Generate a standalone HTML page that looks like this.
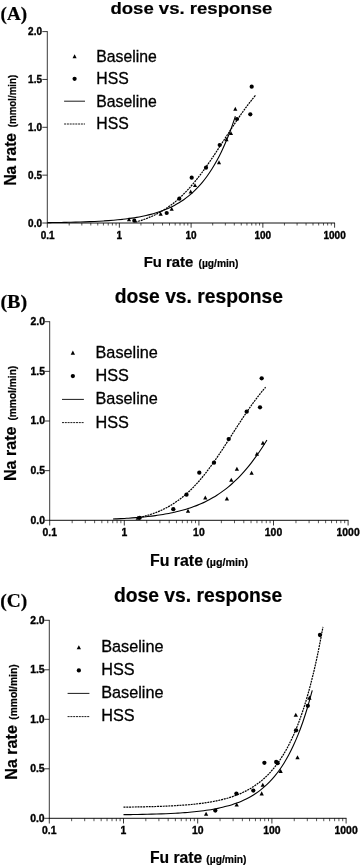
<!DOCTYPE html>
<html><head><meta charset="utf-8"><title>dose vs. response</title>
<style>html,body{margin:0;padding:0;background:#fff}svg{display:block}</style></head>
<body><svg width="360" height="866" viewBox="0 0 360 866" >
<defs><filter id="soft" x="0" y="0" width="360" height="866" filterUnits="userSpaceOnUse"><feGaussianBlur stdDeviation="0.38"/></filter></defs>
<rect width="360" height="866" fill="#fff"/>
<g filter="url(#soft)">
<g stroke="#000" stroke-width="0.78" fill="none" stroke-linecap="butt">
<path d="M47.30 31.21V227.70"/>
<path d="M47.21 223.00H334.99" stroke-width="0.94"/>
<path d="M42.30 223.00H47.30"/>
<path d="M42.30 175.15H47.30"/>
<path d="M42.30 127.30H47.30"/>
<path d="M42.30 79.45H47.30"/>
<path d="M42.30 31.60H47.30"/>
<path d="M69.20 223.00v2.5" stroke-width="0.663"/>
<path d="M81.83 223.00v2.5" stroke-width="0.663"/>
<path d="M90.80 223.00v2.5" stroke-width="0.663"/>
<path d="M97.75 223.00v2.5" stroke-width="0.663"/>
<path d="M103.43 223.00v2.5" stroke-width="0.663"/>
<path d="M108.24 223.00v2.5" stroke-width="0.663"/>
<path d="M112.40 223.00v2.5" stroke-width="0.663"/>
<path d="M116.07 223.00v2.5" stroke-width="0.663"/>
<path d="M119.35 223.00v4.7" stroke-width="0.78"/>
<path d="M140.95 223.00v2.5" stroke-width="0.663"/>
<path d="M153.58 223.00v2.5" stroke-width="0.663"/>
<path d="M162.55 223.00v2.5" stroke-width="0.663"/>
<path d="M169.50 223.00v2.5" stroke-width="0.663"/>
<path d="M175.18 223.00v2.5" stroke-width="0.663"/>
<path d="M179.99 223.00v2.5" stroke-width="0.663"/>
<path d="M184.15 223.00v2.5" stroke-width="0.663"/>
<path d="M187.82 223.00v2.5" stroke-width="0.663"/>
<path d="M191.10 223.00v4.7" stroke-width="0.78"/>
<path d="M212.70 223.00v2.5" stroke-width="0.663"/>
<path d="M225.33 223.00v2.5" stroke-width="0.663"/>
<path d="M234.30 223.00v2.5" stroke-width="0.663"/>
<path d="M241.25 223.00v2.5" stroke-width="0.663"/>
<path d="M246.93 223.00v2.5" stroke-width="0.663"/>
<path d="M251.74 223.00v2.5" stroke-width="0.663"/>
<path d="M255.90 223.00v2.5" stroke-width="0.663"/>
<path d="M259.57 223.00v2.5" stroke-width="0.663"/>
<path d="M262.85 223.00v4.7" stroke-width="0.78"/>
<path d="M284.45 223.00v2.5" stroke-width="0.663"/>
<path d="M297.08 223.00v2.5" stroke-width="0.663"/>
<path d="M306.05 223.00v2.5" stroke-width="0.663"/>
<path d="M313.00 223.00v2.5" stroke-width="0.663"/>
<path d="M318.68 223.00v2.5" stroke-width="0.663"/>
<path d="M323.49 223.00v2.5" stroke-width="0.663"/>
<path d="M327.65 223.00v2.5" stroke-width="0.663"/>
<path d="M331.32 223.00v2.5" stroke-width="0.663"/>
<path d="M334.60 223.00v4.7"/>
</g>
<text transform="translate(42.00 227.40) scale(1 1.08)" font-family='"Liberation Sans", Arial, sans-serif' font-weight="bold" font-size="10" text-anchor="end" fill="#000" stroke="#000" stroke-width="0.35">0.0</text>
<text transform="translate(42.00 179.30) scale(1 1.08)" font-family='"Liberation Sans", Arial, sans-serif' font-weight="bold" font-size="10" text-anchor="end" fill="#000" stroke="#000" stroke-width="0.35">0.5</text>
<text transform="translate(42.00 131.20) scale(1 1.08)" font-family='"Liberation Sans", Arial, sans-serif' font-weight="bold" font-size="10" text-anchor="end" fill="#000" stroke="#000" stroke-width="0.35">1.0</text>
<text transform="translate(42.00 83.10) scale(1 1.08)" font-family='"Liberation Sans", Arial, sans-serif' font-weight="bold" font-size="10" text-anchor="end" fill="#000" stroke="#000" stroke-width="0.35">1.5</text>
<text transform="translate(42.00 35.00) scale(1 1.08)" font-family='"Liberation Sans", Arial, sans-serif' font-weight="bold" font-size="10" text-anchor="end" fill="#000" stroke="#000" stroke-width="0.35">2.0</text>
<text transform="translate(47.60 239.00) scale(1 1.08)" font-family='"Liberation Sans", Arial, sans-serif' font-weight="bold" font-size="10" text-anchor="middle" fill="#000" stroke="#000" stroke-width="0.35">0.1</text>
<text transform="translate(119.35 239.00) scale(1 1.08)" font-family='"Liberation Sans", Arial, sans-serif' font-weight="bold" font-size="10" text-anchor="middle" fill="#000" stroke="#000" stroke-width="0.35">1</text>
<text transform="translate(191.10 239.00) scale(1 1.08)" font-family='"Liberation Sans", Arial, sans-serif' font-weight="bold" font-size="10" text-anchor="middle" fill="#000" stroke="#000" stroke-width="0.35">10</text>
<text transform="translate(262.85 239.00) scale(1 1.08)" font-family='"Liberation Sans", Arial, sans-serif' font-weight="bold" font-size="10" text-anchor="middle" fill="#000" stroke="#000" stroke-width="0.35">100</text>
<text transform="translate(334.60 239.00) scale(1 1.08)" font-family='"Liberation Sans", Arial, sans-serif' font-weight="bold" font-size="10" text-anchor="middle" fill="#000" stroke="#000" stroke-width="0.35">1000</text>
<text transform="translate(191.35 13.90) scale(1 0.89)" font-family='"Liberation Sans", Arial, sans-serif' font-weight="bold" font-size="18.57" text-anchor="middle" fill="#000" stroke="#000" stroke-width="0.2">dose vs. response</text>
<text transform="translate(0.60 19.70) scale(1.07 1)" font-family='"Liberation Serif", "Times New Roman", serif' font-weight="bold" font-size="17.8" text-anchor="start" fill="#000" stroke="#000" stroke-width="0.2">(A)</text>
<text transform="translate(143.70 267.20) scale(1 1.04)" font-family='"Liberation Sans", Arial, sans-serif' font-weight="bold" font-size="14.9" text-anchor="start" fill="#000" stroke="#000" stroke-width="0.2">Fu rate</text>
<text transform="translate(198.50 267.20) scale(1 1.04)" font-family='"Liberation Sans", Arial, sans-serif' font-weight="bold" font-size="10.25" text-anchor="start" fill="#000" stroke="#000" stroke-width="0.2">(µg/min)</text>
<text transform="translate(15.70 185.60) rotate(-90) scale(1 1.06)" font-family='"Liberation Sans", Arial, sans-serif' font-weight="bold" font-size="15.5" text-anchor="start" fill="#000" stroke="#000" stroke-width="0.2">Na rate</text>
<text transform="translate(15.70 127.20) rotate(-90) scale(1 1.06)" font-family='"Liberation Sans", Arial, sans-serif' font-weight="bold" font-size="9.75" text-anchor="start" fill="#000" stroke="#000" stroke-width="0.2">(mmol/min)</text>
<path d="M72.55 58.25L76.65 58.25L74.60 54.36Z" fill="#000"/>
<circle cx="74.60" cy="78.80" r="2.1" fill="#000"/>
<path d="M64.1 101.2H85" stroke="#000" stroke-width="0.9"/>
<path d="M64.1 124.0H85" stroke="#000" stroke-width="0.9" stroke-dasharray="2.0 0.8"/>
<text transform="translate(96.30 61.70) scale(1 1.05)" font-family='"Liberation Sans", Arial, sans-serif' font-weight="normal" font-size="15.8" text-anchor="start" fill="#000" stroke="#000" stroke-width="0.3">Baseline</text>
<text transform="translate(96.30 84.00) scale(1 1.05)" font-family='"Liberation Sans", Arial, sans-serif' font-weight="normal" font-size="15.8" text-anchor="start" fill="#000" stroke="#000" stroke-width="0.3">HSS</text>
<text transform="translate(96.30 107.20) scale(1 1.05)" font-family='"Liberation Sans", Arial, sans-serif' font-weight="normal" font-size="15.8" text-anchor="start" fill="#000" stroke="#000" stroke-width="0.3">Baseline</text>
<text transform="translate(96.30 129.30) scale(1 1.05)" font-family='"Liberation Sans", Arial, sans-serif' font-weight="normal" font-size="15.8" text-anchor="start" fill="#000" stroke="#000" stroke-width="0.3">HSS</text>
<path d="M47.40 222.63C48.18 222.62 50.53 222.59 52.10 222.57C53.67 222.55 55.23 222.53 56.80 222.50C58.37 222.48 59.93 222.45 61.50 222.43C63.07 222.40 64.63 222.37 66.20 222.34C67.77 222.31 69.33 222.27 70.90 222.24C72.47 222.20 74.04 222.16 75.60 222.12C77.17 222.08 78.74 222.03 80.30 221.98C81.87 221.94 83.44 221.88 85.00 221.83C86.57 221.77 88.14 221.71 89.70 221.65C91.27 221.58 92.84 221.52 94.40 221.44C95.97 221.37 97.54 221.29 99.10 221.20C100.67 221.12 102.24 221.02 103.80 220.93C105.37 220.83 106.94 220.72 108.50 220.61C110.07 220.49 111.64 220.37 113.20 220.24C114.77 220.11 116.34 219.97 117.90 219.82C119.47 219.66 121.04 219.50 122.61 219.33C124.17 219.15 125.74 218.97 127.31 218.76C128.87 218.56 130.44 218.35 132.01 218.11C133.57 217.88 135.14 217.63 136.71 217.37C138.27 217.10 139.84 216.81 141.41 216.50C142.97 216.19 144.54 215.86 146.11 215.51C147.67 215.15 149.24 214.77 150.81 214.36C152.37 213.95 153.94 213.51 155.51 213.04C157.07 212.57 158.64 212.06 160.21 211.52C161.77 210.97 163.34 210.40 164.91 209.77C166.47 209.14 168.04 208.47 169.61 207.75C171.18 207.03 172.74 206.26 174.31 205.43C175.88 204.60 177.44 203.72 179.01 202.76C180.58 201.81 182.14 200.79 183.71 199.69C185.28 198.59 186.84 197.43 188.41 196.17C189.98 194.90 191.54 193.57 193.11 192.12C194.68 190.67 196.24 189.13 197.81 187.47C199.38 185.80 200.94 184.04 202.51 182.14C204.08 180.23 205.64 178.21 207.21 176.03C208.78 173.84 210.34 171.53 211.91 169.04C213.48 166.54 215.04 163.90 216.61 161.05C218.18 158.19 219.75 155.18 221.31 151.92C222.88 148.67 224.45 145.23 226.01 141.53C227.58 137.82 229.15 133.91 230.71 129.70C232.28 125.49 234.63 118.51 235.41 116.27" fill="none" stroke="#000" stroke-width="1.10"/>
<path d="M135.44 222.15C135.94 222.00 137.45 221.59 138.45 221.29C139.45 220.98 140.45 220.67 141.46 220.34C142.46 220.01 143.46 219.66 144.47 219.30C145.47 218.94 146.47 218.56 147.47 218.17C148.48 217.77 149.48 217.36 150.48 216.93C151.49 216.50 152.49 216.05 153.49 215.58C154.49 215.11 155.50 214.62 156.50 214.11C157.50 213.59 158.51 213.06 159.51 212.51C160.51 211.95 161.51 211.37 162.52 210.77C163.52 210.16 164.52 209.54 165.53 208.89C166.53 208.23 167.53 207.55 168.53 206.85C169.54 206.14 170.54 205.41 171.54 204.65C172.55 203.89 173.55 203.11 174.55 202.29C175.55 201.48 176.56 200.63 177.56 199.76C178.56 198.88 179.57 197.98 180.57 197.04C181.57 196.11 182.57 195.15 183.58 194.15C184.58 193.16 185.58 192.13 186.59 191.07C187.59 190.02 188.59 188.93 189.59 187.81C190.60 186.70 191.60 185.55 192.60 184.37C193.61 183.20 194.61 181.99 195.61 180.75C196.61 179.52 197.62 178.25 198.62 176.96C199.62 175.67 200.63 174.35 201.63 173.01C202.63 171.67 203.63 170.30 204.64 168.91C205.64 167.51 206.64 166.10 207.65 164.66C208.65 163.23 209.65 161.77 210.65 160.30C211.66 158.83 212.66 157.34 213.66 155.83C214.67 154.33 215.67 152.81 216.67 151.29C217.68 149.76 218.68 148.22 219.68 146.68C220.68 145.14 221.69 143.59 222.69 142.04C223.69 140.49 224.70 138.93 225.70 137.38C226.70 135.83 227.70 134.28 228.71 132.74C229.71 131.20 230.71 129.66 231.72 128.13C232.72 126.60 233.72 125.08 234.72 123.58C235.73 122.08 236.73 120.59 237.73 119.12C238.74 117.65 239.74 116.19 240.74 114.75C241.74 113.32 242.75 111.90 243.75 110.51C244.75 109.12 245.76 107.75 246.76 106.40C247.76 105.06 248.76 103.74 249.77 102.45C250.77 101.16 251.77 99.89 252.78 98.66C253.78 97.42 255.28 95.64 255.78 95.04" fill="none" stroke="#000" stroke-width="1.21" stroke-dasharray="2.0 0.8"/>
<path d="M126.95 221.25L131.05 221.25L129.00 217.36Z" fill="#000"/>
<path d="M158.65 215.75L162.75 215.75L160.70 211.86Z" fill="#000"/>
<path d="M169.65 210.75L173.75 210.75L171.70 206.86Z" fill="#000"/>
<path d="M188.65 193.45L192.75 193.45L190.70 189.56Z" fill="#000"/>
<path d="M192.95 187.05L197.05 187.05L195.00 183.16Z" fill="#000"/>
<path d="M216.95 164.25L221.05 164.25L219.00 160.36Z" fill="#000"/>
<path d="M224.45 141.25L228.55 141.25L226.50 137.36Z" fill="#000"/>
<path d="M228.95 135.05L233.05 135.05L231.00 131.16Z" fill="#000"/>
<path d="M233.25 110.75L237.35 110.75L235.30 106.86Z" fill="#000"/>
<circle cx="134.30" cy="220.70" r="2.1" fill="#000"/>
<circle cx="166.70" cy="213.00" r="2.1" fill="#000"/>
<circle cx="179.30" cy="198.70" r="2.1" fill="#000"/>
<circle cx="191.70" cy="177.70" r="2.1" fill="#000"/>
<circle cx="206.00" cy="167.70" r="2.1" fill="#000"/>
<circle cx="219.70" cy="145.00" r="2.1" fill="#000"/>
<circle cx="237.00" cy="119.00" r="2.1" fill="#000"/>
<circle cx="250.30" cy="114.30" r="2.1" fill="#000"/>
<circle cx="251.70" cy="86.70" r="2.1" fill="#000"/>
<g stroke="#000" stroke-width="0.78" fill="none" stroke-linecap="butt">
<path d="M49.70 321.31V525.50"/>
<path d="M49.31 520.30H348.49" stroke-width="0.94"/>
<path d="M44.70 520.30H49.70"/>
<path d="M44.70 470.65H49.70"/>
<path d="M44.70 421.00H49.70"/>
<path d="M44.70 371.35H49.70"/>
<path d="M44.70 321.70H49.70"/>
<path d="M72.16 520.30v2.9" stroke-width="0.663"/>
<path d="M85.29 520.30v2.9" stroke-width="0.663"/>
<path d="M94.61 520.30v2.9" stroke-width="0.663"/>
<path d="M101.84 520.30v2.9" stroke-width="0.663"/>
<path d="M107.75 520.30v2.9" stroke-width="0.663"/>
<path d="M112.74 520.30v2.9" stroke-width="0.663"/>
<path d="M117.07 520.30v2.9" stroke-width="0.663"/>
<path d="M120.89 520.30v2.9" stroke-width="0.663"/>
<path d="M124.30 520.30v5.2" stroke-width="0.78"/>
<path d="M146.76 520.30v2.9" stroke-width="0.663"/>
<path d="M159.89 520.30v2.9" stroke-width="0.663"/>
<path d="M169.21 520.30v2.9" stroke-width="0.663"/>
<path d="M176.44 520.30v2.9" stroke-width="0.663"/>
<path d="M182.35 520.30v2.9" stroke-width="0.663"/>
<path d="M187.34 520.30v2.9" stroke-width="0.663"/>
<path d="M191.67 520.30v2.9" stroke-width="0.663"/>
<path d="M195.49 520.30v2.9" stroke-width="0.663"/>
<path d="M198.90 520.30v5.2" stroke-width="0.78"/>
<path d="M221.36 520.30v2.9" stroke-width="0.663"/>
<path d="M234.49 520.30v2.9" stroke-width="0.663"/>
<path d="M243.81 520.30v2.9" stroke-width="0.663"/>
<path d="M251.04 520.30v2.9" stroke-width="0.663"/>
<path d="M256.95 520.30v2.9" stroke-width="0.663"/>
<path d="M261.94 520.30v2.9" stroke-width="0.663"/>
<path d="M266.27 520.30v2.9" stroke-width="0.663"/>
<path d="M270.09 520.30v2.9" stroke-width="0.663"/>
<path d="M273.50 520.30v5.2" stroke-width="0.78"/>
<path d="M295.96 520.30v2.9" stroke-width="0.663"/>
<path d="M309.09 520.30v2.9" stroke-width="0.663"/>
<path d="M318.41 520.30v2.9" stroke-width="0.663"/>
<path d="M325.64 520.30v2.9" stroke-width="0.663"/>
<path d="M331.55 520.30v2.9" stroke-width="0.663"/>
<path d="M336.54 520.30v2.9" stroke-width="0.663"/>
<path d="M340.87 520.30v2.9" stroke-width="0.663"/>
<path d="M344.69 520.30v2.9" stroke-width="0.663"/>
<path d="M348.10 520.30v5.2"/>
</g>
<text transform="translate(45.00 523.65) scale(1 1.06)" font-family='"Liberation Sans", Arial, sans-serif' font-weight="bold" font-size="10.4" text-anchor="end" fill="#000" stroke="#000" stroke-width="0.35">0.0</text>
<text transform="translate(45.00 474.00) scale(1 1.06)" font-family='"Liberation Sans", Arial, sans-serif' font-weight="bold" font-size="10.4" text-anchor="end" fill="#000" stroke="#000" stroke-width="0.35">0.5</text>
<text transform="translate(45.00 424.35) scale(1 1.06)" font-family='"Liberation Sans", Arial, sans-serif' font-weight="bold" font-size="10.4" text-anchor="end" fill="#000" stroke="#000" stroke-width="0.35">1.0</text>
<text transform="translate(45.00 374.70) scale(1 1.06)" font-family='"Liberation Sans", Arial, sans-serif' font-weight="bold" font-size="10.4" text-anchor="end" fill="#000" stroke="#000" stroke-width="0.35">1.5</text>
<text transform="translate(45.00 325.05) scale(1 1.06)" font-family='"Liberation Sans", Arial, sans-serif' font-weight="bold" font-size="10.4" text-anchor="end" fill="#000" stroke="#000" stroke-width="0.35">2.0</text>
<text transform="translate(49.70 536.10) scale(1 1.06)" font-family='"Liberation Sans", Arial, sans-serif' font-weight="bold" font-size="10.4" text-anchor="middle" fill="#000" stroke="#000" stroke-width="0.35">0.1</text>
<text transform="translate(124.30 536.10) scale(1 1.06)" font-family='"Liberation Sans", Arial, sans-serif' font-weight="bold" font-size="10.4" text-anchor="middle" fill="#000" stroke="#000" stroke-width="0.35">1</text>
<text transform="translate(198.90 536.10) scale(1 1.06)" font-family='"Liberation Sans", Arial, sans-serif' font-weight="bold" font-size="10.4" text-anchor="middle" fill="#000" stroke="#000" stroke-width="0.35">10</text>
<text transform="translate(273.50 536.10) scale(1 1.06)" font-family='"Liberation Sans", Arial, sans-serif' font-weight="bold" font-size="10.4" text-anchor="middle" fill="#000" stroke="#000" stroke-width="0.35">100</text>
<text transform="translate(348.10 536.10) scale(1 1.06)" font-family='"Liberation Sans", Arial, sans-serif' font-weight="bold" font-size="10.4" text-anchor="middle" fill="#000" stroke="#000" stroke-width="0.35">1000</text>
<text transform="translate(198.90 302.80)" font-family='"Liberation Sans", Arial, sans-serif' font-weight="bold" font-size="19.3" text-anchor="middle" fill="#000" stroke="#000" stroke-width="0.2">dose vs. response</text>
<text transform="translate(0.40 308.00) scale(1.06 1)" font-family='"Liberation Serif", "Times New Roman", serif' font-weight="bold" font-size="19" text-anchor="start" fill="#000" stroke="#000" stroke-width="0.2">(B)</text>
<text transform="translate(150.00 565.60) scale(1 1.03)" font-family='"Liberation Sans", Arial, sans-serif' font-weight="bold" font-size="15.9" text-anchor="start" fill="#000" stroke="#000" stroke-width="0.2">Fu rate</text>
<text transform="translate(206.30 565.60) scale(1 1.03)" font-family='"Liberation Sans", Arial, sans-serif' font-weight="bold" font-size="10.7" text-anchor="start" fill="#000" stroke="#000" stroke-width="0.2">(µg/min)</text>
<text transform="translate(16.20 481.00) rotate(-90) scale(1 1.05)" font-family='"Liberation Sans", Arial, sans-serif' font-weight="bold" font-size="16.1" text-anchor="start" fill="#000" stroke="#000" stroke-width="0.2">Na rate</text>
<text transform="translate(16.20 420.60) rotate(-90) scale(1 1.05)" font-family='"Liberation Sans", Arial, sans-serif' font-weight="bold" font-size="10.2" text-anchor="start" fill="#000" stroke="#000" stroke-width="0.2">(mmol/min)</text>
<path d="M70.70 354.64L75.00 354.64L72.85 350.55Z" fill="#000"/>
<circle cx="72.85" cy="376.10" r="2.15" fill="#000"/>
<path d="M62 399.4H83.9" stroke="#000" stroke-width="0.9"/>
<path d="M62 422.6H83.9" stroke="#000" stroke-width="0.9" stroke-dasharray="2.0 0.8"/>
<text transform="translate(95.50 357.70)" font-family='"Liberation Sans", Arial, sans-serif' font-weight="normal" font-size="16.25" text-anchor="start" fill="#000" stroke="#000" stroke-width="0.3">Baseline</text>
<text transform="translate(95.50 381.00)" font-family='"Liberation Sans", Arial, sans-serif' font-weight="normal" font-size="16.25" text-anchor="start" fill="#000" stroke="#000" stroke-width="0.3">HSS</text>
<text transform="translate(95.50 404.30)" font-family='"Liberation Sans", Arial, sans-serif' font-weight="normal" font-size="16.25" text-anchor="start" fill="#000" stroke="#000" stroke-width="0.3">Baseline</text>
<text transform="translate(95.50 427.60)" font-family='"Liberation Sans", Arial, sans-serif' font-weight="normal" font-size="16.25" text-anchor="start" fill="#000" stroke="#000" stroke-width="0.3">HSS</text>
<path d="M113.04 519.02C113.68 518.99 115.61 518.90 116.89 518.84C118.17 518.78 119.45 518.72 120.74 518.65C122.02 518.58 123.30 518.51 124.58 518.43C125.86 518.35 127.15 518.28 128.43 518.19C129.71 518.11 130.99 518.02 132.27 517.92C133.56 517.83 134.84 517.73 136.12 517.63C137.40 517.52 138.69 517.42 139.97 517.30C141.25 517.19 142.53 517.06 143.81 516.94C145.10 516.81 146.38 516.68 147.66 516.53C148.94 516.39 150.22 516.24 151.51 516.09C152.79 515.93 154.07 515.77 155.35 515.59C156.64 515.42 157.92 515.24 159.20 515.04C160.48 514.85 161.76 514.65 163.05 514.43C164.33 514.22 165.61 514.00 166.89 513.76C168.17 513.53 169.46 513.28 170.74 513.02C172.02 512.76 173.30 512.48 174.59 512.20C175.87 511.91 177.15 511.60 178.43 511.29C179.71 510.97 181.00 510.63 182.28 510.28C183.56 509.93 184.84 509.56 186.12 509.17C187.41 508.78 188.69 508.38 189.97 507.95C191.25 507.52 192.53 507.08 193.82 506.60C195.10 506.13 196.38 505.64 197.66 505.12C198.95 504.60 200.23 504.06 201.51 503.49C202.79 502.92 204.07 502.33 205.36 501.70C206.64 501.08 207.92 500.42 209.20 499.74C210.48 499.05 211.77 498.34 213.05 497.59C214.33 496.83 215.61 496.05 216.90 495.23C218.18 494.41 219.46 493.56 220.74 492.66C222.02 491.76 223.31 490.83 224.59 489.86C225.87 488.88 227.15 487.87 228.43 486.81C229.72 485.75 231.00 484.65 232.28 483.50C233.56 482.35 234.85 481.15 236.13 479.91C237.41 478.67 238.69 477.38 239.97 476.04C241.26 474.69 242.54 473.30 243.82 471.86C245.10 470.42 246.38 468.92 247.67 467.37C248.95 465.83 250.23 464.22 251.51 462.57C252.79 460.91 254.08 459.20 255.36 457.44C256.64 455.67 257.92 453.85 259.21 451.98C260.49 450.11 261.77 448.18 263.05 446.20C264.33 444.22 266.26 441.11 266.90 440.10" fill="none" stroke="#000" stroke-width="1.10"/>
<path d="M139.35 517.58C139.88 517.45 141.46 517.08 142.51 516.81C143.56 516.54 144.61 516.25 145.66 515.95C146.72 515.66 147.77 515.34 148.82 515.01C149.87 514.69 150.93 514.34 151.98 513.98C153.03 513.61 154.08 513.24 155.13 512.84C156.19 512.44 157.24 512.02 158.29 511.58C159.34 511.14 160.40 510.68 161.45 510.20C162.50 509.72 163.55 509.22 164.60 508.69C165.66 508.16 166.71 507.61 167.76 507.04C168.81 506.46 169.87 505.86 170.92 505.23C171.97 504.60 173.02 503.95 174.07 503.26C175.13 502.58 176.18 501.87 177.23 501.12C178.28 500.38 179.33 499.61 180.39 498.80C181.44 498.00 182.49 497.16 183.54 496.30C184.60 495.43 185.65 494.53 186.70 493.59C187.75 492.66 188.80 491.69 189.86 490.69C190.91 489.69 191.96 488.65 193.01 487.58C194.07 486.51 195.12 485.40 196.17 484.26C197.22 483.12 198.27 481.95 199.33 480.74C200.38 479.53 201.43 478.29 202.48 477.01C203.54 475.74 204.59 474.43 205.64 473.09C206.69 471.75 207.74 470.38 208.80 468.98C209.85 467.57 210.90 466.14 211.95 464.69C213.01 463.23 214.06 461.74 215.11 460.24C216.16 458.73 217.21 457.19 218.27 455.64C219.32 454.09 220.37 452.52 221.42 450.93C222.48 449.35 223.53 447.74 224.58 446.12C225.63 444.51 226.68 442.88 227.74 441.25C228.79 439.62 229.84 437.97 230.89 436.33C231.95 434.69 233.00 433.04 234.05 431.40C235.10 429.76 236.15 428.12 237.21 426.49C238.26 424.86 239.31 423.23 240.36 421.62C241.42 420.01 242.47 418.41 243.52 416.83C244.57 415.25 245.62 413.68 246.68 412.14C247.73 410.59 248.78 409.07 249.83 407.57C250.89 406.07 251.94 404.59 252.99 403.15C254.04 401.70 255.09 400.28 256.15 398.89C257.20 397.50 258.25 396.14 259.30 394.81C260.36 393.48 261.41 392.18 262.46 390.92C263.51 389.65 265.09 387.84 265.62 387.23" fill="none" stroke="#000" stroke-width="1.21" stroke-dasharray="2.0 0.8"/>
<path d="M135.65 519.84L139.95 519.84L137.80 515.75Z" fill="#000"/>
<path d="M185.85 512.84L190.15 512.84L188.00 508.75Z" fill="#000"/>
<path d="M203.15 499.54L207.45 499.54L205.30 495.45Z" fill="#000"/>
<path d="M224.75 500.54L229.05 500.54L226.90 496.45Z" fill="#000"/>
<path d="M229.15 481.84L233.45 481.84L231.30 477.75Z" fill="#000"/>
<path d="M234.75 470.74L239.05 470.74L236.90 466.65Z" fill="#000"/>
<path d="M249.45 474.74L253.75 474.74L251.60 470.65Z" fill="#000"/>
<path d="M254.75 455.84L259.05 455.84L256.90 451.75Z" fill="#000"/>
<path d="M260.75 444.74L265.05 444.74L262.90 440.65Z" fill="#000"/>
<circle cx="139.70" cy="517.80" r="2.15" fill="#000"/>
<circle cx="173.30" cy="509.20" r="2.15" fill="#000"/>
<circle cx="186.50" cy="494.70" r="2.15" fill="#000"/>
<circle cx="199.30" cy="472.70" r="2.15" fill="#000"/>
<circle cx="214.00" cy="462.70" r="2.15" fill="#000"/>
<circle cx="228.70" cy="439.10" r="2.15" fill="#000"/>
<circle cx="246.70" cy="411.70" r="2.15" fill="#000"/>
<circle cx="260.00" cy="407.30" r="2.15" fill="#000"/>
<circle cx="261.70" cy="378.30" r="2.15" fill="#000"/>
<g stroke="#000" stroke-width="0.78" fill="none" stroke-linecap="butt">
<path d="M49.30 619.91V823.50"/>
<path d="M48.91 818.30H346.49" stroke-width="0.94"/>
<path d="M44.30 818.30H49.30"/>
<path d="M44.30 768.80H49.30"/>
<path d="M44.30 719.30H49.30"/>
<path d="M44.30 669.80H49.30"/>
<path d="M44.30 620.30H49.30"/>
<path d="M71.64 818.30v2.9" stroke-width="0.663"/>
<path d="M84.70 818.30v2.9" stroke-width="0.663"/>
<path d="M93.97 818.30v2.9" stroke-width="0.663"/>
<path d="M101.16 818.30v2.9" stroke-width="0.663"/>
<path d="M107.04 818.30v2.9" stroke-width="0.663"/>
<path d="M112.01 818.30v2.9" stroke-width="0.663"/>
<path d="M116.31 818.30v2.9" stroke-width="0.663"/>
<path d="M120.10 818.30v2.9" stroke-width="0.663"/>
<path d="M123.50 818.30v5.2" stroke-width="0.78"/>
<path d="M145.84 818.30v2.9" stroke-width="0.663"/>
<path d="M158.90 818.30v2.9" stroke-width="0.663"/>
<path d="M168.17 818.30v2.9" stroke-width="0.663"/>
<path d="M175.36 818.30v2.9" stroke-width="0.663"/>
<path d="M181.24 818.30v2.9" stroke-width="0.663"/>
<path d="M186.21 818.30v2.9" stroke-width="0.663"/>
<path d="M190.51 818.30v2.9" stroke-width="0.663"/>
<path d="M194.30 818.30v2.9" stroke-width="0.663"/>
<path d="M197.70 818.30v5.2" stroke-width="0.78"/>
<path d="M220.04 818.30v2.9" stroke-width="0.663"/>
<path d="M233.10 818.30v2.9" stroke-width="0.663"/>
<path d="M242.37 818.30v2.9" stroke-width="0.663"/>
<path d="M249.56 818.30v2.9" stroke-width="0.663"/>
<path d="M255.44 818.30v2.9" stroke-width="0.663"/>
<path d="M260.41 818.30v2.9" stroke-width="0.663"/>
<path d="M264.71 818.30v2.9" stroke-width="0.663"/>
<path d="M268.50 818.30v2.9" stroke-width="0.663"/>
<path d="M271.90 818.30v5.2" stroke-width="0.78"/>
<path d="M294.24 818.30v2.9" stroke-width="0.663"/>
<path d="M307.30 818.30v2.9" stroke-width="0.663"/>
<path d="M316.57 818.30v2.9" stroke-width="0.663"/>
<path d="M323.76 818.30v2.9" stroke-width="0.663"/>
<path d="M329.64 818.30v2.9" stroke-width="0.663"/>
<path d="M334.61 818.30v2.9" stroke-width="0.663"/>
<path d="M338.91 818.30v2.9" stroke-width="0.663"/>
<path d="M342.70 818.30v2.9" stroke-width="0.663"/>
<path d="M346.10 818.30v5.2"/>
</g>
<text transform="translate(44.60 821.90) scale(1 1.06)" font-family='"Liberation Sans", Arial, sans-serif' font-weight="bold" font-size="10.4" text-anchor="end" fill="#000" stroke="#000" stroke-width="0.35">0.0</text>
<text transform="translate(44.60 772.40) scale(1 1.06)" font-family='"Liberation Sans", Arial, sans-serif' font-weight="bold" font-size="10.4" text-anchor="end" fill="#000" stroke="#000" stroke-width="0.35">0.5</text>
<text transform="translate(44.60 722.90) scale(1 1.06)" font-family='"Liberation Sans", Arial, sans-serif' font-weight="bold" font-size="10.4" text-anchor="end" fill="#000" stroke="#000" stroke-width="0.35">1.0</text>
<text transform="translate(44.60 673.40) scale(1 1.06)" font-family='"Liberation Sans", Arial, sans-serif' font-weight="bold" font-size="10.4" text-anchor="end" fill="#000" stroke="#000" stroke-width="0.35">1.5</text>
<text transform="translate(44.60 623.90) scale(1 1.06)" font-family='"Liberation Sans", Arial, sans-serif' font-weight="bold" font-size="10.4" text-anchor="end" fill="#000" stroke="#000" stroke-width="0.35">2.0</text>
<text transform="translate(49.30 834.10) scale(1 1.06)" font-family='"Liberation Sans", Arial, sans-serif' font-weight="bold" font-size="10.4" text-anchor="middle" fill="#000" stroke="#000" stroke-width="0.35">0.1</text>
<text transform="translate(123.50 834.10) scale(1 1.06)" font-family='"Liberation Sans", Arial, sans-serif' font-weight="bold" font-size="10.4" text-anchor="middle" fill="#000" stroke="#000" stroke-width="0.35">1</text>
<text transform="translate(197.70 834.10) scale(1 1.06)" font-family='"Liberation Sans", Arial, sans-serif' font-weight="bold" font-size="10.4" text-anchor="middle" fill="#000" stroke="#000" stroke-width="0.35">10</text>
<text transform="translate(271.90 834.10) scale(1 1.06)" font-family='"Liberation Sans", Arial, sans-serif' font-weight="bold" font-size="10.4" text-anchor="middle" fill="#000" stroke="#000" stroke-width="0.35">100</text>
<text transform="translate(346.10 834.10) scale(1 1.06)" font-family='"Liberation Sans", Arial, sans-serif' font-weight="bold" font-size="10.4" text-anchor="middle" fill="#000" stroke="#000" stroke-width="0.35">1000</text>
<text transform="translate(198.10 601.70)" font-family='"Liberation Sans", Arial, sans-serif' font-weight="bold" font-size="19.3" text-anchor="middle" fill="#000" stroke="#000" stroke-width="0.2">dose vs. response</text>
<text transform="translate(0.30 607.00) scale(1.03 1)" font-family='"Liberation Serif", "Times New Roman", serif' font-weight="bold" font-size="18.9" text-anchor="start" fill="#000" stroke="#000" stroke-width="0.2">(C)</text>
<text transform="translate(150.00 862.70) scale(1 1.03)" font-family='"Liberation Sans", Arial, sans-serif' font-weight="bold" font-size="15.7" text-anchor="start" fill="#000" stroke="#000" stroke-width="0.2">Fu rate</text>
<text transform="translate(206.30 862.70) scale(1 1.03)" font-family='"Liberation Sans", Arial, sans-serif' font-weight="bold" font-size="10.3" text-anchor="start" fill="#000" stroke="#000" stroke-width="0.2">(µg/min)</text>
<text transform="translate(17.40 779.70) rotate(-90) scale(1 1.05)" font-family='"Liberation Sans", Arial, sans-serif' font-weight="bold" font-size="16.1" text-anchor="start" fill="#000" stroke="#000" stroke-width="0.2">Na rate</text>
<text transform="translate(17.40 719.80) rotate(-90) scale(1 1.05)" font-family='"Liberation Sans", Arial, sans-serif' font-weight="bold" font-size="10.3" text-anchor="start" fill="#000" stroke="#000" stroke-width="0.2">(mmol/min)</text>
<path d="M76.70 649.24L81.00 649.24L78.85 645.15Z" fill="#000"/>
<circle cx="78.85" cy="670.40" r="2.15" fill="#000"/>
<path d="M67.6 693.4H89.4" stroke="#000" stroke-width="0.9"/>
<path d="M67.6 716.6H89.4" stroke="#000" stroke-width="0.9" stroke-dasharray="2.0 0.8"/>
<text transform="translate(101.20 652.30)" font-family='"Liberation Sans", Arial, sans-serif' font-weight="normal" font-size="16.25" text-anchor="start" fill="#000" stroke="#000" stroke-width="0.3">Baseline</text>
<text transform="translate(101.20 675.30)" font-family='"Liberation Sans", Arial, sans-serif' font-weight="normal" font-size="16.25" text-anchor="start" fill="#000" stroke="#000" stroke-width="0.3">HSS</text>
<text transform="translate(101.20 698.30)" font-family='"Liberation Sans", Arial, sans-serif' font-weight="normal" font-size="16.25" text-anchor="start" fill="#000" stroke="#000" stroke-width="0.3">Baseline</text>
<text transform="translate(101.20 721.30)" font-family='"Liberation Sans", Arial, sans-serif' font-weight="normal" font-size="16.25" text-anchor="start" fill="#000" stroke="#000" stroke-width="0.3">HSS</text>
<path d="M123.50 814.67C124.29 814.66 126.65 814.64 128.22 814.62C129.79 814.60 131.37 814.58 132.94 814.55C134.51 814.53 136.08 814.50 137.66 814.48C139.23 814.45 140.80 814.42 142.38 814.39C143.95 814.36 145.52 814.33 147.10 814.29C148.67 814.25 150.24 814.21 151.82 814.17C153.39 814.13 154.96 814.09 156.53 814.04C158.11 813.99 159.68 813.94 161.25 813.88C162.83 813.82 164.40 813.76 165.97 813.70C167.55 813.63 169.12 813.56 170.69 813.49C172.27 813.41 173.84 813.33 175.41 813.25C176.98 813.16 178.56 813.07 180.13 812.96C181.70 812.86 183.28 812.76 184.85 812.64C186.42 812.52 188.00 812.40 189.57 812.26C191.14 812.13 192.72 811.98 194.29 811.82C195.86 811.67 197.43 811.50 199.01 811.32C200.58 811.14 202.15 810.94 203.73 810.73C205.30 810.52 206.87 810.30 208.45 810.06C210.02 809.81 211.59 809.55 213.17 809.27C214.74 808.99 216.31 808.69 217.88 808.36C219.46 808.04 221.03 807.69 222.60 807.31C224.18 806.93 225.75 806.53 227.32 806.09C228.90 805.66 230.47 805.19 232.04 804.68C233.62 804.18 235.19 803.64 236.76 803.05C238.33 802.47 239.91 801.84 241.48 801.16C243.05 800.48 244.63 799.76 246.20 798.98C247.77 798.19 249.35 797.35 250.92 796.44C252.49 795.53 254.07 794.57 255.64 793.51C257.21 792.46 258.79 791.34 260.36 790.12C261.93 788.90 263.50 787.60 265.08 786.19C266.65 784.78 268.22 783.28 269.80 781.64C271.37 780.01 272.94 778.27 274.52 776.38C276.09 774.48 277.66 772.47 279.24 770.28C280.81 768.09 282.38 765.76 283.95 763.22C285.53 760.68 287.10 757.99 288.67 755.05C290.25 752.11 291.82 748.99 293.39 745.59C294.97 742.19 296.54 738.58 298.11 734.64C299.69 730.70 301.26 726.52 302.83 721.96C304.40 717.40 305.98 712.56 307.55 707.28C309.12 702.00 311.48 693.12 312.27 690.29" fill="none" stroke="#000" stroke-width="1.10"/>
<path d="M123.50 807.14C124.33 807.13 126.82 807.10 128.49 807.07C130.15 807.05 131.81 807.03 133.47 807.00C135.14 806.98 136.80 806.95 138.46 806.92C140.12 806.89 141.79 806.85 143.45 806.82C145.11 806.78 146.77 806.74 148.44 806.70C150.10 806.66 151.76 806.62 153.42 806.57C155.08 806.52 156.75 806.47 158.41 806.41C160.07 806.36 161.73 806.30 163.40 806.23C165.06 806.16 166.72 806.09 168.38 806.02C170.05 805.94 171.71 805.86 173.37 805.77C175.03 805.68 176.69 805.58 178.36 805.47C180.02 805.37 181.68 805.26 183.34 805.13C185.01 805.01 186.67 804.88 188.33 804.74C189.99 804.59 191.66 804.44 193.32 804.27C194.98 804.11 196.64 803.93 198.31 803.73C199.97 803.54 201.63 803.33 203.29 803.10C204.95 802.87 206.62 802.63 208.28 802.36C209.94 802.10 211.60 801.81 213.27 801.50C214.93 801.19 216.59 800.86 218.25 800.50C219.92 800.14 221.58 799.75 223.24 799.33C224.90 798.90 226.57 798.45 228.23 797.96C229.89 797.46 231.55 796.94 233.21 796.36C234.88 795.78 236.54 795.17 238.20 794.49C239.86 793.82 241.53 793.10 243.19 792.32C244.85 791.53 246.51 790.69 248.18 789.77C249.84 788.86 251.50 787.88 253.16 786.81C254.82 785.73 256.49 784.59 258.15 783.34C259.81 782.09 261.47 780.76 263.14 779.30C264.80 777.84 266.46 776.28 268.12 774.57C269.79 772.87 271.45 771.05 273.11 769.06C274.77 767.07 276.44 764.95 278.10 762.63C279.76 760.30 281.42 757.83 283.08 755.12C284.75 752.40 286.41 749.52 288.07 746.35C289.73 743.18 291.40 739.81 293.06 736.11C294.72 732.41 296.38 728.48 298.05 724.16C299.71 719.85 301.37 715.25 303.03 710.21C304.70 705.17 306.36 699.81 308.02 693.93C309.68 688.05 311.34 681.78 313.01 674.92C314.67 668.05 316.33 660.74 317.99 652.73C319.66 644.71 322.15 631.14 322.98 626.82" fill="none" stroke="#000" stroke-width="1.21" stroke-dasharray="2.0 0.8"/>
<path d="M203.95 815.74L208.25 815.74L206.10 811.65Z" fill="#000"/>
<path d="M234.55 806.54L238.85 806.54L236.70 802.45Z" fill="#000"/>
<path d="M259.55 795.44L263.85 795.44L261.70 791.35Z" fill="#000"/>
<path d="M260.65 786.84L264.95 786.84L262.80 782.75Z" fill="#000"/>
<path d="M278.45 772.94L282.75 772.94L280.60 768.85Z" fill="#000"/>
<path d="M295.35 759.34L299.65 759.34L297.50 755.25Z" fill="#000"/>
<path d="M293.65 716.84L297.95 716.84L295.80 712.75Z" fill="#000"/>
<path d="M307.25 699.64L311.55 699.64L309.40 695.55Z" fill="#000"/>
<circle cx="215.30" cy="810.60" r="2.15" fill="#000"/>
<circle cx="236.40" cy="793.60" r="2.15" fill="#000"/>
<circle cx="253.30" cy="790.60" r="2.15" fill="#000"/>
<circle cx="264.40" cy="762.80" r="2.15" fill="#000"/>
<circle cx="276.20" cy="762.00" r="2.15" fill="#000"/>
<circle cx="277.60" cy="763.20" r="2.15" fill="#000"/>
<circle cx="296.10" cy="730.30" r="2.15" fill="#000"/>
<circle cx="307.80" cy="705.80" r="2.15" fill="#000"/>
<circle cx="320.00" cy="635.00" r="2.15" fill="#000"/>
</g>
</svg></body></html>
